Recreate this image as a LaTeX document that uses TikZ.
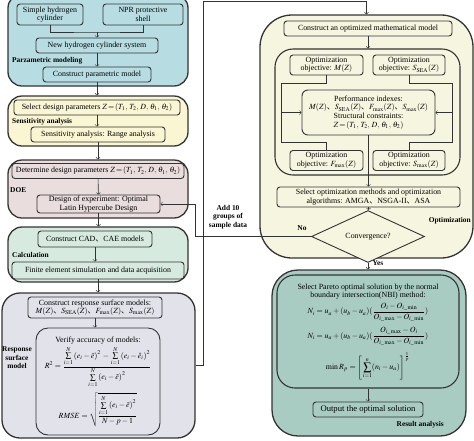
\documentclass[tikz,border=0pt]{standalone}
\usepackage{amsmath}
\usepackage{mathptmx}
\usepackage{fontspec}
\setmainfont{Liberation Serif}
\newfontfamily\cjk{Noto Sans CJK SC}
\usepackage{tikz}
\usetikzlibrary{shapes}
\usetikzlibrary{arrows}
\usetikzlibrary{positioning}
\definecolor{lineclr}{HTML}{333333}
\definecolor{parblue}{HTML}{B7DDE3}
\definecolor{sensyel}{HTML}{FAF5D2}
\definecolor{doepink}{HTML}{EADDDD}
\definecolor{calcgreen}{HTML}{D7EADF}
\definecolor{respgrey}{HTML}{E2E3EA}
\definecolor{optcream}{HTML}{F6F5E0}
\definecolor{resteal}{HTML}{A9CCC2}
\newcommand{\dun}{{\cjk 、}}
\tikzstyle{phase}=[
        rectangle,
        draw=lineclr,
        line width=1.3pt,
        rounded corners=14pt,
        inner sep=0pt
]
\tikzstyle{inbox}=[rectangle,draw=lineclr,line width=0.9pt,rounded corners=3pt,
inner sep=1pt,align=center,font=\fontsize{7.9}{8.6}\selectfont]
\tikzstyle{tag}=[inner sep=0pt,align=center,font=\fontsize{7.4}{8.6}\selectfont\bfseries]
\tikzstyle{cond}=[diamond,draw=lineclr,line width=0.9pt,fill=optcream,inner sep=0pt,
minimum width=113pt,minimum height=33pt,font=\fontsize{7.9}{8.6}\selectfont]
\tikzstyle{suite}=[->,>=to,line width=0.6pt,draw=lineclr]
\tikzstyle{link}=[line width=0.6pt,draw=lineclr]

\begin{document}
\begin{tikzpicture}[x=1pt,y=-1pt]
\useasboundingbox (0,0) rectangle (474,440);
%stages
\node[phase,fill=parblue,minimum width=180pt,minimum height=92pt] (param) at (98,40) {};
\node[phase,fill=sensyel,minimum width=180pt,minimum height=50pt] (sens) at (98,121) {};
\node[phase,fill=doepink,minimum width=180pt,minimum height=58pt] (doe) at (98,189) {};
\node[phase,fill=calcgreen,minimum width=180pt,minimum height=55pt] (calc) at (98,254.5) {};
\node[phase,fill=respgrey,minimum width=193pt,minimum height=145pt,rounded corners=18pt] (resp) at (98.5,365.5) {};
\node[phase,fill=optcream,minimum width=213pt,minimum height=243pt,rounded corners=32pt] (optim) at (366.5,136.5) {};
\node[phase,fill=resteal,minimum width=194pt,minimum height=166pt,rounded corners=26pt] (result) at (369,353) {};
%parametric modeling
\node[inbox,fill=parblue,minimum width=66pt,minimum height=21pt] (cyl) at (50,14.5) {Simple hydrogen\\cylinder};
\node[inbox,fill=parblue,minimum width=80pt,minimum height=21pt] (npr) at (143,14.5) {NPR protective\\shell};
\node[inbox,fill=parblue,minimum width=122pt,minimum height=15pt] (newsys) at (97,45.5) {New hydrogen cylinder system};
\node[tag,anchor=west] (tparam) at (12,61) {Parzametric modeling};
\node[inbox,fill=parblue,minimum width=108pt,minimum height=15pt] (cpm) at (97,74.5) {Construct parametric model};
%sensitivity analysis
\node[inbox,fill=sensyel,minimum width=166pt,minimum height=15pt] (seldp) at (97,107.5) {Select design parameters $Z\!=\!(T_1,\,T_2,\,D,\,\theta_1,\,\theta_2)$};
\node[tag,anchor=west] (tsens) at (12,122) {Sensitivity analysis};
\node[inbox,fill=sensyel,minimum width=134pt,minimum height=15pt] (range) at (98,134.5) {Sensitivity analysis: Range analysis};
%doe
\node[inbox,fill=doepink,minimum width=172pt,minimum height=15pt] (detdp) at (98,171) {Determine design parameters $Z\!=\!(T_1,\,T_2,\,D,\,\theta_1,\,\theta_2)$};
\node[tag,anchor=west] (tdoe) at (10,190) {DOE};
\node[inbox,fill=doepink,minimum width=123pt,minimum height=18pt] (lhd) at (98.5,204) {Design of experiment: Optimal\\Latin Hypercube Design};
%calculation
\node[inbox,fill=calcgreen,minimum width=114pt,minimum height=16pt] (cad) at (95,239) {Construct CAD\dun CAE models};
\node[tag,anchor=west] (tcalc) at (12,255) {Calculation};
\node[inbox,fill=calcgreen,minimum width=172pt,minimum height=17pt] (fem) at (98,270.5) {Finite element simulation and data acquisition};
%response surface
\node[inbox,fill=respgrey,minimum width=134pt,minimum height=21pt] (crsm) at (95,307.5) {Construct response surface models:\\$M(Z)$\dun$S_{\mathrm{SEA}}(Z)$\dun$F_{\max}(Z)$\dun$S_{\max}(Z)$};
\node[inbox,fill=respgrey,minimum width=124pt,minimum height=107pt,rounded corners=12pt] (verify) at (98,381.5) {Verify accuracy of models:\\[2pt]
$\displaystyle R^2=\frac{\sum\limits_{i=1}^{N}\left(e_i-\bar{e}\right)^2\,-\,\sum\limits_{i=1}^{N}\left(e_i-\hat{e}_i\right)^2}{\sum\limits_{i=1}^{N}\left(e_i-\bar{e}\right)^2}$\\[5pt]
$\displaystyle RMSE=\sqrt{\frac{\sum\limits_{i=1}^{N}\left(e_i-\bar{e}\right)^2}{N-p-1}}$};
\node[tag] (tresp) at (17,358) {Response\\surface\\model};
%optimization
\node[inbox,fill=optcream,minimum width=168pt,minimum height=15pt] (comm) at (368,28.5) {Construct an optimized mathematical model};
\node[phase,fill=optcream,line width=1.1pt,minimum width=185pt,minimum height=126pt,rounded corners=18pt] (frame) at (367.5,112) {};
\node[inbox,fill=optcream,minimum width=73pt,minimum height=20pt] (objM) at (326.5,65) {Optimization\\objective: $M(Z)$};
\node[inbox,fill=optcream,minimum width=72pt,minimum height=20pt] (objS) at (409,65) {Optimization\\objective: $S_{\mathrm{SEA}}(Z)$};
\node[inbox,fill=optcream,minimum width=133pt,minimum height=45pt,rounded corners=6pt] (perf) at (368.5,112.5) {Performance indexes:\\$M(Z)$\dun$S_{\mathrm{SEA}}(Z)$\dun$F_{\max}(Z)$\dun$S_{\max}(Z)$\\Structural constraints:\\$Z\!=\!(T_1,\,T_2,\,D,\,\theta_1,\,\theta_2)$};
\node[inbox,fill=optcream,minimum width=73pt,minimum height=20pt] (objF) at (326.5,160.5) {Optimization\\objective: $F_{\max}(Z)$};
\node[inbox,fill=optcream,minimum width=72pt,minimum height=20pt] (objSm) at (409,160.5) {Optimization\\objective: $S_{\max}(Z)$};
\node[inbox,fill=optcream,minimum width=183pt,minimum height=20pt] (selopt) at (368.5,197) {Select optimization methods and optimization\\algorithms: AMGA\dun NSGA-II\dun ASA};
\node[cond] (conv) at (368,236.5) {Convergence?};
\node[tag,anchor=east] (topt) at (471,221) {Optimization};
\node[tag] (tno) at (302,228) {No};
\node[tag] (tyes) at (378,263) {Yes};
\node[tag] (tadd) at (228,217) {Add 10\\groups of\\sample data};
%result analysis
\node[inbox,fill=resteal,line width=1.1pt,minimum width=182pt,minimum height=113pt,rounded corners=18pt] (pareto) at (368,331.5) {Select Pareto optimal solution by the normal\\boundary intersection(NBI) method:\\[3pt]
$\displaystyle N_i=u_a+(u_b-u_a)(\frac{O_i-O_{i\_\min}}{O_{i\_\max}-O_{i\_\min}})$\\[5pt]
$\displaystyle N_i=u_a+(u_b-u_a)(\frac{O_{i\_\max}-O_i}{O_{i\_\max}-O_{i\_\min}})$\\[6pt]
$\displaystyle \min R_p=\left[\,\sum_{i=1}^{n}(n_i-u_a)\right]^{\frac{1}{p}}$};
\node[inbox,fill=resteal,minimum width=110pt,minimum height=15pt,font=\fontsize{8.6}{9}\selectfont] (out) at (368,409.5) {Output the optimal solution};
\node[tag,anchor=east] (tres) at (444,425) {Result analysis};
%arrows
\coordinate (join) at (97,32);
\coordinate (upturn) at (203,1.5);
\coordinate (noturn) at (195,236.5);
\draw[link] (cyl.south) |- (join) -| (npr.south);
\draw[suite] (join) -- (newsys);
\draw[suite] (newsys) -- (cpm);
\draw[suite] (cpm.south) -- (cpm.south |- sens.north);
\draw[suite] (seldp.south) -- (seldp.south |- range.north);
\draw[suite] (range.south) -- (range.south |- doe.north);
\draw[suite] (detdp) -- (lhd);
\draw[suite] (lhd.south) -- (lhd.south |- calc.north);
\draw[suite] (cad.south) -- (cad.south |- fem.north);
\draw[suite] (fem.south) -- (fem.south |- resp.north);
\draw[suite] (crsm.south) -- (crsm.south |- verify.north);
\draw[suite] (resp.east) -| (upturn) -| (optim.north);
\draw[suite] (comm.south) -- (comm.south |- frame.north);
\draw[link] (objM.south) -- ++(0,8) -| ([xshift=-20pt]perf.west) |- ([yshift=8pt]objF.north) -- (objF.north);
\draw[link] (objS.south) -- ++(0,8) -| ([xshift=17pt]perf.east) |- ([yshift=8pt]objSm.north) -- (objSm.north);
\draw[suite] ([xshift=-20pt]perf.west) -- (perf.west);
\draw[suite] ([xshift=17pt]perf.east) -- (perf.east);
\draw[suite] (perf.south) -- (perf.south |- selopt.north);
\draw[suite] (selopt.south) -- (selopt.south |- conv.north);
\draw[suite] (conv.west) -- (noturn) |- (lhd.east);
\draw[suite] (conv.south) -- (conv.south |- result.north);
\draw[suite] (pareto) -- (out);
\end{tikzpicture}
\end{document}
